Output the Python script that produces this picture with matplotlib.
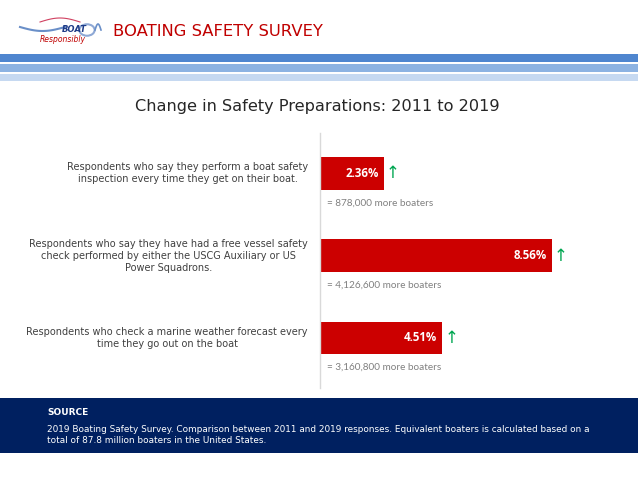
import matplotlib
matplotlib.use('Agg')
import matplotlib.pyplot as plt
from matplotlib.patches import Rectangle
from matplotlib.lines import Line2D
import numpy as np

# data
labels = ['Respondents who say they perform a boat safety\ninspection every time they get on their boat.',
          'Respondents who say they have had a free vessel safety\ncheck performed by either the USCG Auxiliary or US\nPower Squadrons.',
          'Respondents who check a marine weather forecast every\ntime they go out on the boat']
changes = [2.36, 8.56, 4.51]
boaters = ['= 878,000 more boaters', '= 4,126,600 more boaters', '= 3,160,800 more boaters']

W, H = 638, 478
fig = plt.figure(figsize=(W / 100, H / 100), dpi=100)

def fx(x):
    return x / W

def fy(y):
    return 1 - y / H

# header
fig.text(fx(113), fy(32), 'BOATING SAFETY SURVEY', color='#c00000', fontsize=11.8,
         family='DejaVu Sans', va='center', ha='left')
# rough logo
fig.text(fx(62), fy(30), 'BOAT', color='#1f3c88', fontsize=6, fontweight='bold',
         style='italic', va='center')
fig.text(fx(40), fy(39), 'Responsibly', color='#c00000', fontsize=5.5, style='italic',
         va='center')
t = np.linspace(0, 1, 30)
fig.add_artist(Line2D(fx(20 + 45 * t), fy(27 + 4 * np.sin(t * np.pi)), color='#6a8fc8', lw=1.5))
fig.add_artist(Line2D(fx(40 + 40 * t), fy(22 - 4 * np.sin(t * np.pi)), color='#d04060', lw=0.8))
fig.add_artist(plt.Circle((fx(87), fy(30)), 0.012, transform=fig.transFigure,
                          color='#8fa9d6', fill=False, lw=1.5))
fig.add_artist(Line2D(fx(95 + 6 * t), fy(30 - 6 * np.sin(t * np.pi)), color='#6a8fc8', lw=1.2))

# blue stripes
for top, bot, col in [(54, 61.5, '#4f86cf'), (64, 71.5, '#8db3e2'), (73.5, 80.5, '#c6d9f1')]:
    fig.add_artist(Rectangle((0, fy(bot)), 1, (bot - top) / H, transform=fig.transFigure,
                             color=col, lw=0))

# title
fig.text(fx(317), fy(106), 'Change in Safety Preparations: 2011 to 2019', color='#262626',
         fontsize=11.6, family='DejaVu Sans', ha='center', va='center')

# chart
ax = fig.add_axes([fx(320), fy(388), 1 - fx(320), (388 - 133) / H])
y = np.arange(len(changes))
ax.barh(y, changes, height=0.40, color='#cc0000', edgecolor='none')
ax.set_xlim(0, 318 / 27.1)
ax.set_ylim(2.608, -0.492)
for s in ['top', 'right', 'bottom']:
    ax.spines[s].set_visible(False)
ax.spines['left'].set_color('#d9d9d9')
ax.spines['left'].set_linewidth(1)
ax.set_xticks([])
ax.set_yticks([])

for i, v in enumerate(changes):
    ax.annotate(f'{v:.2f}%', xy=(v, i), xytext=(-4, 0), textcoords='offset points',
                ha='right', va='center', color='white', fontsize=8.3, fontweight='bold',
                family='Open Sans')
    ax.annotate('\u2191', xy=(v, i), xytext=(6.5, 0), textcoords='offset points',
                ha='center', va='center', color='#00a651', fontsize=12,
                family='DejaVu Sans')
    ax.annotate(boaters[i], xy=(0, i + 0.36), xytext=(5, 0), textcoords='offset points',
                ha='left', va='center', color='#808080', fontsize=7.2, family='Lato')
    fig.text(fx(308), fy(173.5 + 82.25 * i), labels[i], ha='right', va='center',
             multialignment='center', color='#404040', fontsize=7.0, family='DejaVu Sans',
             linespacing=1.25)

# source footer
fig.add_artist(Rectangle((0, fy(453)), 1, (453 - 398) / H, transform=fig.transFigure,
                         color='#002060', lw=0))
fig.text(fx(47), fy(412.5), 'SOURCE', color='white', fontsize=6.5, fontweight='bold',
         family='DejaVu Sans', va='center')
fig.text(fx(47), fy(435), '2019 Boating Safety Survey. Comparison between 2011 and 2019 responses. '
         'Equivalent boaters is calculated based on a\ntotal of 87.8 million boaters in the United States.',
         color='white', fontsize=6.4, family='DejaVu Sans', va='center', linespacing=1.25)

fig.savefig('out.png', dpi=100)
